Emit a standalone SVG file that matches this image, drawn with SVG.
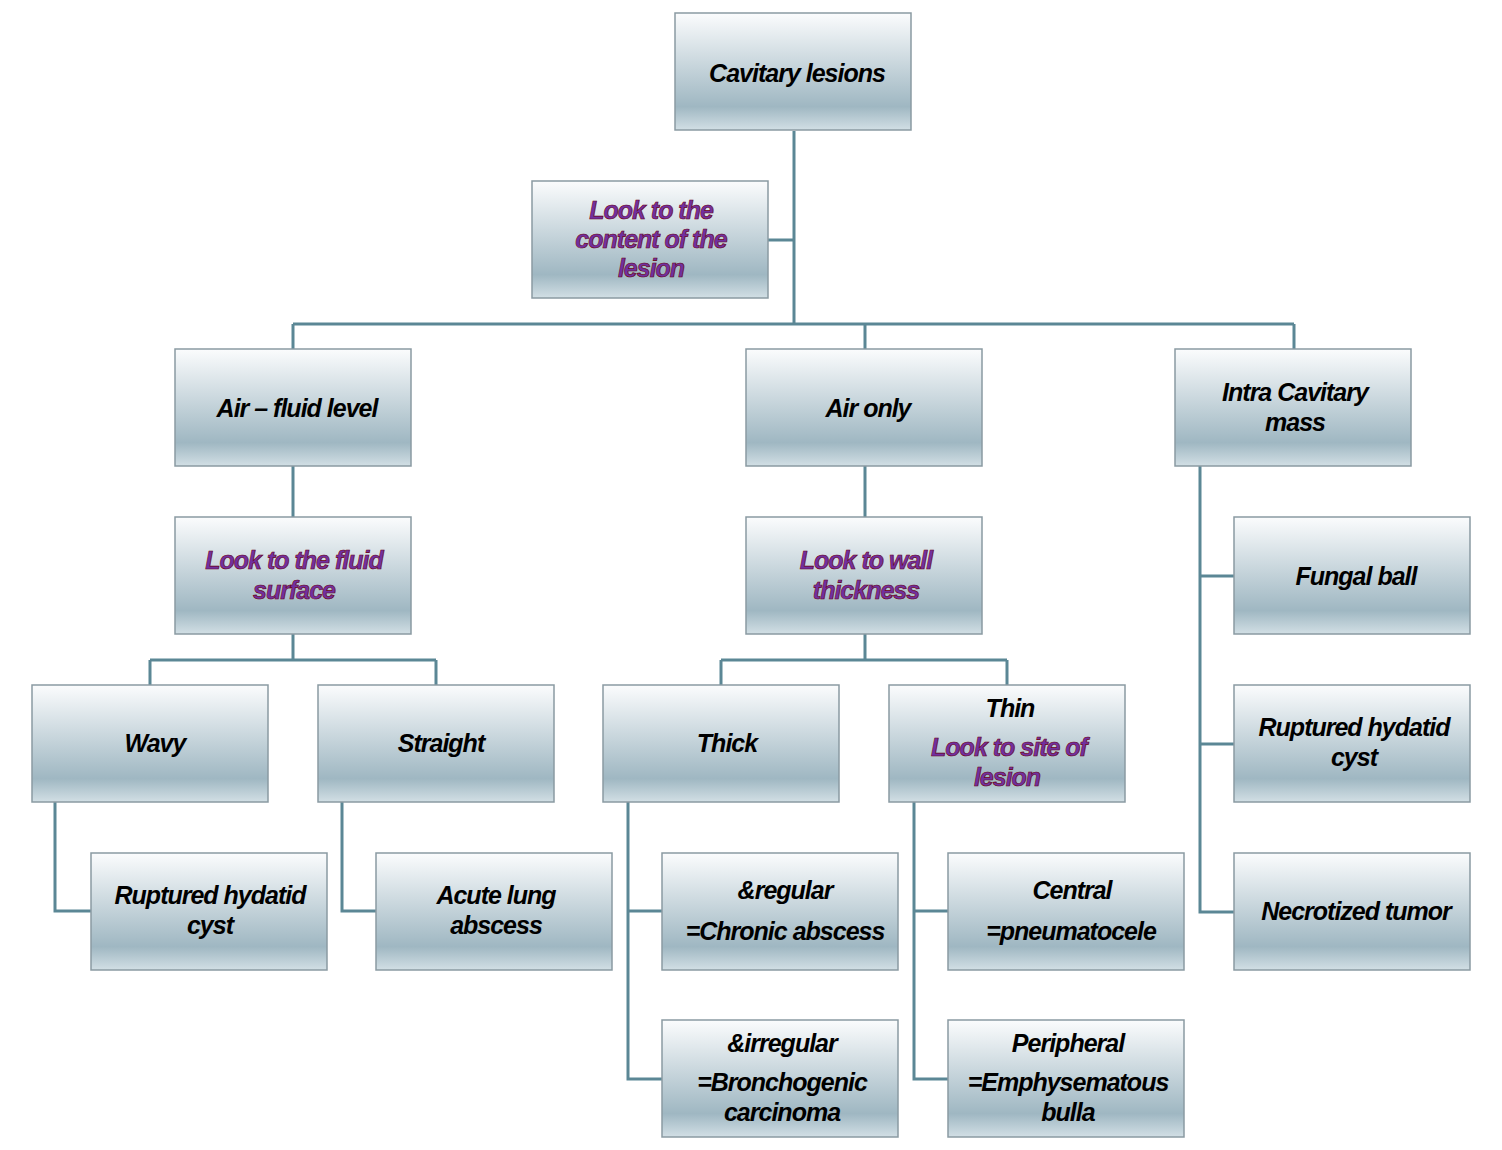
<svg xmlns="http://www.w3.org/2000/svg" width="1502" height="1150" viewBox="0 0 1502 1150">
<defs>
<linearGradient id="g" x1="0" y1="0" x2="0" y2="1">
<stop offset="0" stop-color="#fbfcfd"/>
<stop offset="0.8" stop-color="#9fb7c2"/>
<stop offset="1" stop-color="#d2dfe5"/>
</linearGradient>
<filter id="glow" x="-10%" y="-10%" width="120%" height="120%"><feGaussianBlur stdDeviation="3"/></filter>
</defs>
<style>
.b{fill:url(#g);stroke:#8a9aa2;stroke-width:1.5}
.h{fill:none;stroke:#dfeef5;stroke-width:6;filter:url(#glow)}
text{font-family:"Liberation Sans",Arial,sans-serif;font-weight:bold;font-style:italic;font-size:25px;letter-spacing:-1px;text-anchor:middle}
.k{fill:#000}
.p{fill:#7030a0;stroke:#6a0010;stroke-width:0.6}
.c{fill:none;stroke:#5b8795;stroke-width:3}
</style>
<rect width="1502" height="1150" fill="#fff"/>
<g id="connectors" class="c">
<path d="M794 131V324M794 240H768M293 324H1294M293 324V349M865 324V349M1294 324V349"/>
<path d="M293 466V517M293 634V660M150 660H436M150 660V685M436 660V685"/>
<path d="M865 466V517M865 634V660M721 660H1007M721 660V685M1007 660V685"/>
<path d="M1200 466V912H1234M1200 576H1234M1200 744H1234"/>
<path d="M55 802V911H91M342 802V911H376"/>
<path d="M628 802V1079H662M628 911H662M914 802V1079H948M914 911H948"/>
</g>
<g id="n1"><rect class="b" x="675" y="13" width="236" height="117"/><text class="k" x="797" y="82">Cavitary lesions</text></g>
<g id="n2"><rect class="b" x="532" y="181" width="236" height="117"/><text class="p" x="651" y="219">Look to the</text><text class="p" x="651" y="248">content of the</text><text class="p" x="651" y="277">lesion</text></g>
<g id="n3"><rect class="b" x="175" y="349" width="236" height="117"/><text class="k" x="297" y="417">Air – fluid level</text></g>
<g id="n4"><rect class="b" x="746" y="349" width="236" height="117"/><text class="k" x="868" y="417">Air only</text></g>
<g id="n5"><rect class="b" x="1175" y="349" width="236" height="117"/><text class="k" x="1295" y="401">Intra Cavitary</text><text class="k" x="1295" y="431">mass</text></g>
<g id="n6"><rect class="b" x="175" y="517" width="236" height="117"/><text class="p" x="294" y="569">Look to the fluid</text><text class="p" x="294" y="599">surface</text></g>
<g id="n7"><rect class="b" x="746" y="517" width="236" height="117"/><text class="p" x="866" y="569">Look to wall</text><text class="p" x="866" y="599">thickness</text></g>
<g id="n8"><rect class="b" x="1234" y="517" width="236" height="117"/><text class="k" x="1356" y="585">Fungal ball</text></g>
<g id="n9"><rect class="b" x="32" y="685" width="236" height="117"/><text class="k" x="155" y="752">Wavy</text></g>
<g id="n10"><rect class="b" x="318" y="685" width="236" height="117"/><text class="k" x="441" y="752">Straight</text></g>
<g id="n11"><rect class="b" x="603" y="685" width="236" height="117"/><text class="k" x="727" y="752">Thick</text></g>
<g id="n12"><rect class="b" x="889" y="685" width="236" height="117"/><text class="k" x="1010" y="717">Thin</text><text class="p" x="1009" y="756">Look to site of</text><text class="p" x="1007" y="786">lesion</text></g>
<g id="n13"><rect class="b" x="1234" y="685" width="236" height="117"/><text class="k" x="1354" y="736">Ruptured hydatid</text><text class="k" x="1354" y="766">cyst</text></g>
<g id="n14"><rect class="b" x="91" y="853" width="236" height="117"/><text class="k" x="210" y="904">Ruptured hydatid</text><text class="k" x="210" y="934">cyst</text></g>
<g id="n15"><rect class="b" x="376" y="853" width="236" height="117"/><text class="k" x="496" y="904">Acute lung</text><text class="k" x="496" y="934">abscess</text></g>
<g id="n16"><rect class="b" x="662" y="853" width="236" height="117"/><text class="k" x="785" y="899">&amp;regular</text><text class="k" x="785" y="940">=Chronic abscess</text></g>
<g id="n17"><rect class="b" x="948" y="853" width="236" height="117"/><text class="k" x="1072" y="899">Central</text><text class="k" x="1071" y="940">=pneumatocele</text></g>
<g id="n18"><rect class="b" x="1234" y="853" width="236" height="117"/><text class="k" x="1356" y="920">Necrotized tumor</text></g>
<g id="n19"><rect class="b" x="662" y="1020" width="236" height="117"/><text class="k" x="782" y="1052">&amp;irregular</text><text class="k" x="782" y="1091">=Bronchogenic</text><text class="k" x="782" y="1121">carcinoma</text></g>
<g id="n20"><rect class="b" x="948" y="1020" width="236" height="117"/><text class="k" x="1068" y="1052">Peripheral</text><text class="k" x="1068" y="1091">=Emphysematous</text><text class="k" x="1068" y="1121">bulla</text></g>
</svg>
